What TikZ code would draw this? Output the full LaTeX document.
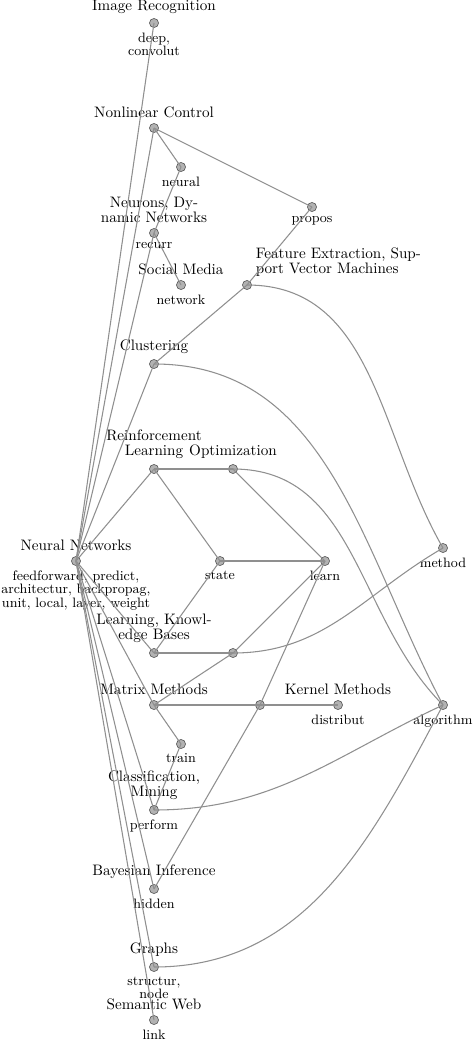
\documentclass[tikz,border=0pt]{standalone}
\begin{document}
\begin{tikzpicture}[x=0.66pt,y=0.66pt]
\tikzset{
  dot/.style={circle, draw=black!62, fill=black!30, line width=0.45pt, inner sep=0pt, minimum size=6pt},
  conn/.style={draw=black!44, line width=0.7pt},
  toplab/.style={font=\fontsize{10}{10}\selectfont, align=center, inner sep=3.33pt, text=black},
  botlab/.style={font=\fontsize{9}{8.8}\selectfont, align=center, inner sep=3pt, text=black},
}
\useasboundingbox (0,0) rectangle (474,-1040);

% nodes
\node[dot, label={[toplab, inner sep=3pt]above:Image Recognition}, label={[botlab]below:{deep,\\convolut}}] (ir) at (154,-23) {};
\node[dot, label={[toplab]above:Nonlinear Control}] (nc) at (154,-128) {};
\node[dot, label={[botlab]below:neural}] (neural) at (181,-167) {};
\node[dot, label={[botlab]below:propos}] (propos) at (312,-207) {};
\node[dot, label={[toplab]above:{Neurons, Dy-\\namic Networks}}, label={[botlab]below:recurr}] (recurr) at (154,-233) {};
\node[dot, label={[toplab]above:Social Media}, label={[botlab]below:network}] (network) at (181,-285) {};
\node[dot, label={[toplab, align=left]above right:{Feature Extraction, Sup-\\port Vector Machines}}] (fe) at (247,-285) {};
\node[dot, label={[toplab]above:Clustering}] (clus) at (154,-364) {};
\node[dot, label={[toplab]above:{Reinforcement\\Learning}}] (rl) at (154,-469) {};
\node[dot, label={[toplab]above:Optimization}] (opt) at (233,-469) {};
\node[dot, label={[toplab]above:Neural Networks}, label={[botlab]below:{feedforward, predict,\\architectur, backpropag,\\unit, local, layer, weight}}] (nn) at (76,-561) {};
\node[dot, label={[botlab]below:state}] (state) at (220,-561) {};
\node[dot, label={[botlab]below:learn}] (learn) at (325,-561) {};
\node[dot, label={[botlab]below:method}] (method) at (443,-548) {};
\node[dot, label={[toplab]above:{Learning, Knowl-\\edge Bases}}] (lkb) at (154,-653) {};
\node[dot] (u1) at (233,-653) {};
\node[dot, label={[toplab]above:Matrix Methods}] (mm) at (154,-705) {};
\node[dot] (u2) at (260,-705) {};
\node[dot, label={[toplab]above:Kernel Methods}, label={[botlab]below:distribut}] (km) at (338,-705) {};
\node[dot, label={[botlab]below:algorithm}] (alg) at (443,-705) {};
\node[dot, label={[botlab]below:train}] (train) at (181,-744) {};
\node[dot, label={[toplab]above:{Classification,\\Mining}}, label={[botlab]below:perform}] (cm) at (154,-810) {};
\node[dot, label={[toplab]above:Bayesian Inference}, label={[botlab]below:hidden}] (bi) at (154,-889) {};
\node[dot, label={[toplab]above:Graphs}, label={[botlab]below:{structur,\\node}}] (gr) at (154,-967) {};
\node[dot, label={[toplab]above:Semantic Web}, label={[botlab]below:link}] (sw) at (154,-1020) {};

% straight connectors
\foreach \t in {ir,nc,recurr,clus,rl,lkb,mm,cm,bi,gr,sw}
  \draw[conn] (nn.center) -- (\t.center);
\draw[conn] (nc.center) -- (neural.center);
\draw[conn] (nc.center) -- (propos.center);
\draw[conn] (neural.center) -- (recurr.center);
\draw[conn] (recurr.center) -- (network.center);
\draw[conn] (propos.center) -- (fe.center);
\draw[conn] (fe.center) -- (clus.center);
\draw[conn] (rl.center) -- (opt.center);
\draw[conn] (rl.center) -- (state.center);
\draw[conn] (opt.center) -- (learn.center);
\draw[conn] (state.center) -- (learn.center);
\draw[conn] (state.center) -- (lkb.center);
\draw[conn] (lkb.center) -- (u1.center);
\draw[conn] (u1.center) -- (learn.center);
\draw[conn] (u1.center) -- (mm.center);
\draw[conn] (learn.center) -- (u2.center);
\draw[conn] (mm.center) -- (u2.center);
\draw[conn] (u2.center) -- (km.center);
\draw[conn] (u2.center) -- (bi.center);
\draw[conn] (mm.center) -- (train.center);
\draw[conn] (train.center) -- (cm.center);

% curved connectors
\draw[conn] (fe.center) to[out=0, in=120] (method.center);
\draw[conn] (clus.center) to[out=0, in=118] (alg.center);
\draw[conn] (opt.center) to[out=0, in=135] (alg.center);
\draw[conn] (u1.center) to[out=0, in=210] (method.center);
\draw[conn] (cm.center) to[out=0, in=205] (alg.center);
\draw[conn] (gr.center) to[out=0, in=242] (alg.center);
\end{tikzpicture}
\end{document}
